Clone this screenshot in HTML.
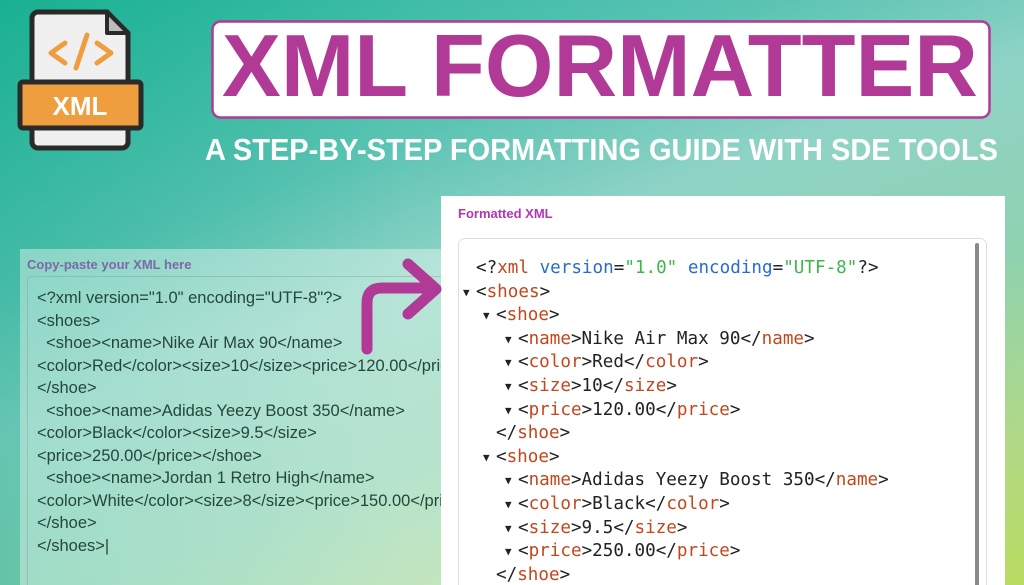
<!DOCTYPE html>
<html><head><meta charset="utf-8"><style>
html,body{margin:0;padding:0;width:1024px;height:585px;overflow:hidden}
body{position:relative;font-family:"Liberation Sans",sans-serif;
background:linear-gradient(160deg,#1db596 0%,#5cc4b4 30%,#8fd3c6 45%,#8fd2b0 65%,#b2d986 85%,#b9dc60 100%);}
.bg2{position:absolute;inset:0;background:linear-gradient(90deg,rgba(20,170,140,.35) 0%,rgba(20,170,140,0) 40%);}
#left{position:absolute;left:20px;top:249px;width:421px;height:336px;background:rgba(230,248,240,.45);overflow:hidden}
#left .lbl{position:absolute;left:7px;top:8px;font-size:13px;font-weight:bold;color:#7d68a8;}
#left .ta{position:absolute;left:7px;top:27px;width:420px;height:320px;border:1px solid rgba(120,160,140,.4);border-radius:4px;}
#left pre{position:absolute;left:17px;top:38px;margin:0;font-family:"Liberation Sans",sans-serif;font-size:16.5px;line-height:22.5px;color:#24473a;white-space:pre;}
#right{position:absolute;left:441px;top:196px;width:564px;height:389px;background:#fff;overflow:hidden}
#right .lbl{position:absolute;left:17px;top:10px;font-size:13px;font-weight:bold;color:#b036b4;}
#right .box{position:absolute;left:17px;top:42px;width:527px;height:360px;border:1.5px solid #ddd;border-radius:7px;}
#right .sb{position:absolute;left:534px;top:47px;width:4px;height:345px;background:#8a8a8a;border-radius:2px;}
#right .code{position:absolute;left:0;top:61px;font-family:"DejaVu Sans Mono",monospace;font-size:17.6px;line-height:23.6px;color:#222;}
.code div{position:relative;height:23.6px;white-space:pre}
.tr{position:absolute;font-size:11px;margin-left:-13px;top:0}
.t{color:#c4461d}.a{color:#2a6bd0}.v{color:#3cb84a}
</style></head><body>
<div class="bg2"></div>
<svg width="1024" height="200" style="position:absolute;left:0;top:0">
 <path d="M38,12 H107 L128,33 V142 a6,6 0 0 1 -6,6 H38 a6,6 0 0 1 -6,-6 V18 a6,6 0 0 1 6,-6Z" fill="#f0f0f0" stroke="#2a2a2a" stroke-width="5"/>
 <path d="M107,12 V33 H128Z" fill="#bdbdbd" stroke="#2a2a2a" stroke-width="4" stroke-linejoin="round"/>
 <g stroke="#ee9d3f" stroke-width="5" fill="none" stroke-linecap="round" stroke-linejoin="round">
  <path d="M65,43 L51,53 L65,63"/><path d="M76,68 L87,35"/><path d="M97,43 L111,53 L97,63"/>
 </g>
 <rect x="20" y="82" width="121" height="46" rx="3" fill="#ee9d3f" stroke="#2a2a2a" stroke-width="5"/>
 <text x="80" y="115" text-anchor="middle" font-family="Liberation Sans" font-weight="bold" font-size="26" fill="#fff">XML</text>
 <rect x="212.5" y="21.5" width="777" height="96" rx="8" fill="#fff" stroke="#b03a96" stroke-width="2.5"/>
 <text x="222" y="96" font-family="Liberation Sans" font-weight="bold" font-size="88" fill="#b03a96" textLength="756" lengthAdjust="spacingAndGlyphs">XML FORMATTER</text>
 <text x="205" y="160" font-family="Liberation Sans" font-weight="bold" font-size="31" fill="#fff" textLength="793" lengthAdjust="spacingAndGlyphs">A STEP-BY-STEP FORMATTING GUIDE WITH SDE TOOLS</text>
</svg>
<div id="left"><div class="lbl">Copy-paste your XML here</div><div class="ta"></div>
<pre>&lt;?xml version="1.0" encoding="UTF-8"?&gt;
&lt;shoes&gt;
  &lt;shoe&gt;&lt;name&gt;Nike Air Max 90&lt;/name&gt;
&lt;color&gt;Red&lt;/color&gt;&lt;size&gt;10&lt;/size&gt;&lt;price&gt;120.00&lt;/price&gt;
&lt;/shoe&gt;
  &lt;shoe&gt;&lt;name&gt;Adidas Yeezy Boost 350&lt;/name&gt;
&lt;color&gt;Black&lt;/color&gt;&lt;size&gt;9.5&lt;/size&gt;
&lt;price&gt;250.00&lt;/price&gt;&lt;/shoe&gt;
  &lt;shoe&gt;&lt;name&gt;Jordan 1 Retro High&lt;/name&gt;
&lt;color&gt;White&lt;/color&gt;&lt;size&gt;8&lt;/size&gt;&lt;price&gt;150.00&lt;/price&gt;
&lt;/shoe&gt;
&lt;/shoes&gt;|</pre></div>
<div id="right"><div class="lbl">Formatted XML</div><div class="box"></div><div class="sb"></div>
<div class="code"><div style="padding-left:35px">&lt;?<span class="t">xml</span> <span class="a">version</span>=<span class="v">"1.0"</span> <span class="a">encoding</span>=<span class="v">"UTF-8"</span>?&gt;</div><div style="padding-left:35px"><span class="tr">▼</span>&lt;<span class="t">shoes</span>&gt;</div><div style="padding-left:55px"><span class="tr">▼</span>&lt;<span class="t">shoe</span>&gt;</div><div style="padding-left:77px"><span class="tr">▼</span>&lt;<span class="t">name</span>&gt;Nike Air Max 90&lt;/<span class="t">name</span>&gt;</div><div style="padding-left:77px"><span class="tr">▼</span>&lt;<span class="t">color</span>&gt;Red&lt;/<span class="t">color</span>&gt;</div><div style="padding-left:77px"><span class="tr">▼</span>&lt;<span class="t">size</span>&gt;10&lt;/<span class="t">size</span>&gt;</div><div style="padding-left:77px"><span class="tr">▼</span>&lt;<span class="t">price</span>&gt;120.00&lt;/<span class="t">price</span>&gt;</div><div style="padding-left:55px">&lt;/<span class="t">shoe</span>&gt;</div><div style="padding-left:55px"><span class="tr">▼</span>&lt;<span class="t">shoe</span>&gt;</div><div style="padding-left:77px"><span class="tr">▼</span>&lt;<span class="t">name</span>&gt;Adidas Yeezy Boost 350&lt;/<span class="t">name</span>&gt;</div><div style="padding-left:77px"><span class="tr">▼</span>&lt;<span class="t">color</span>&gt;Black&lt;/<span class="t">color</span>&gt;</div><div style="padding-left:77px"><span class="tr">▼</span>&lt;<span class="t">size</span>&gt;9.5&lt;/<span class="t">size</span>&gt;</div><div style="padding-left:77px"><span class="tr">▼</span>&lt;<span class="t">price</span>&gt;250.00&lt;/<span class="t">price</span>&gt;</div><div style="padding-left:55px">&lt;/<span class="t">shoe</span>&gt;</div></div></div>
<svg width="1024" height="585" style="position:absolute;left:0;top:0">
 <g stroke="#b03a96" stroke-width="11" fill="none" stroke-linecap="round" stroke-linejoin="round">
  <path d="M367,349 V303 Q367,288 382,288 H434"/>
  <path d="M408,264 L436,289 L408,314"/>
 </g>
</svg>
</body></html>
